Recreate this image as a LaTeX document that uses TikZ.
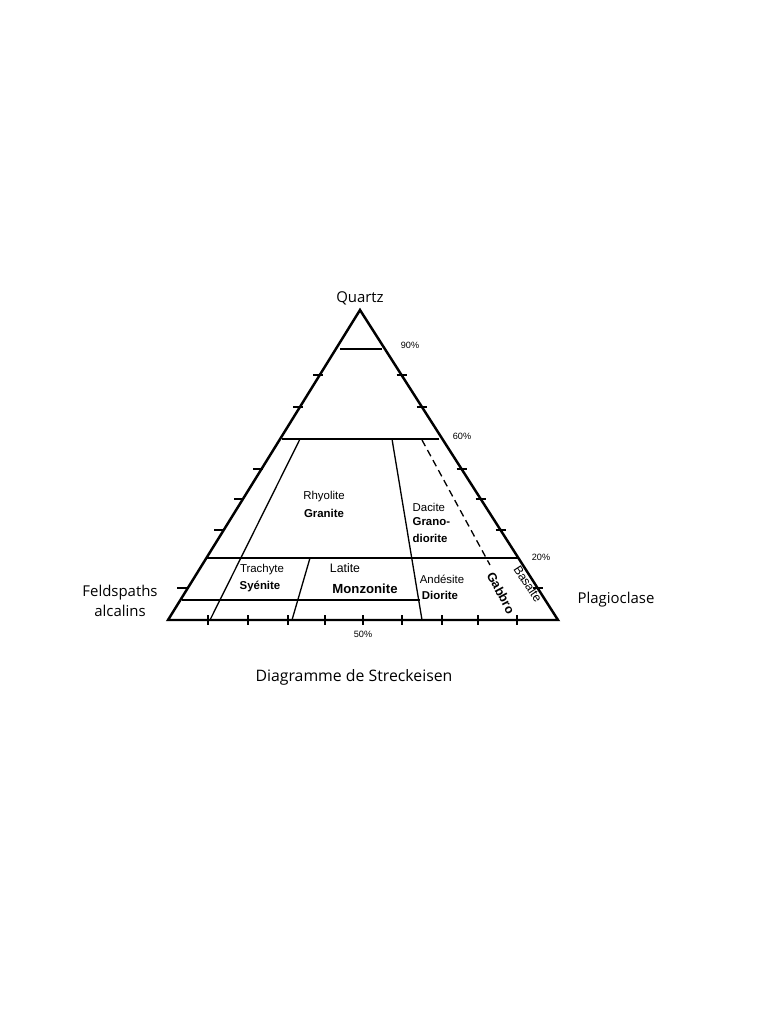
\documentclass[tikz,border=0pt]{standalone}
\usepackage{fontspec}
\setmainfont{Liberation Sans}
\newfontfamily\outerfont{Open Sans}

\begin{document}
\begin{tikzpicture}[x=0.02cm,y=-0.02cm,line width=0.75pt,
  rock/.style={font=\fontsize{6.5}{7}\selectfont,inner sep=0pt},
  pct/.style={font=\fontsize{5.2}{6}\selectfont,inner sep=0pt},
  outer/.style={font=\outerfont\fontsize{8.5}{11}\selectfont,inner sep=0pt,align=center}]

\useasboundingbox (0,0) rectangle (768,1024);

% corners of the triangle
\coordinate (Q) at (360,310);
\coordinate (F) at (168,620);
\coordinate (P) at (558,620);
\draw[line width=1.4pt,line join=miter] (Q)--(F)--(P)--cycle;

\node[outer] at (360,298) {Quartz};
\node[outer] at (120,601) {Feldspaths\\alcalins};
\node[outer,anchor=west] at (577,600) {Plagioclase};
\node[outer,font=\outerfont\fontsize{9}{11}\selectfont] at (354,677) {Diagramme de Streckeisen};

% horizontal limits
\draw (340,349)--(382,349);
\draw (282,439)--(439,439);
\draw (206,558)--(519,558);
\draw (182,600)--(420,600);

% field boundaries
\draw (300,439)--(210,620);
\draw (310,558)--(292,620);
\draw (392,439)--(422,620);
\draw[dashed,dash pattern=on 4pt off 2.5pt] (422,440)--(490,565);

% ticks
\foreach \x in {208,248,288,325,363,402,442,478,517}
  \draw (\x,615)--(\x,625);
\foreach \y in {375,407,469,499,530,588}{
  \pgfmathsetmacro{\d}{0.6387*(\y-310)}
  \draw ({360-\d-5},\y)--({360-\d+5},\y);
  \draw ({360+\d-5},\y)--({360+\d+5},\y);
}

% percentages
\node[pct] at (410,345) {90\%};
\node[pct] at (462,436) {60\%};
\node[pct] at (541,557) {20\%};
\node[pct] at (363,634) {50\%};

% rock names
\node[rock] at (324,497) {Rhyolite};
\node[rock] at (324,513) {\bfseries Granite};
\node[rock,anchor=west] at (412,507) {Dacite};
\node[rock,anchor=west] at (412,522) {\bfseries Grano-};
\node[rock,anchor=west] at (412,538) {\bfseries diorite};
\node[rock] at (262,570) {Trachyte};
\node[rock] at (260,586) {\bfseries Syénite};
\node[rock,font=\fontsize{7}{8}\selectfont] at (345,568) {Latite};
\node[rock,font=\fontsize{7.5}{8}\selectfont] at (365,589) {\bfseries Monzonite};
\node[rock] at (442,579) {Andésite};
\node[rock] at (440,595) {\bfseries Diorite};
\node[rock,font=\fontsize{7}{8}\selectfont,rotate=-57] at (528,584) {Basalte};
\node[rock,font=\fontsize{7.2}{8}\selectfont,rotate=-62] at (501,593) {\bfseries Gabbro};

\end{tikzpicture}
\end{document}
